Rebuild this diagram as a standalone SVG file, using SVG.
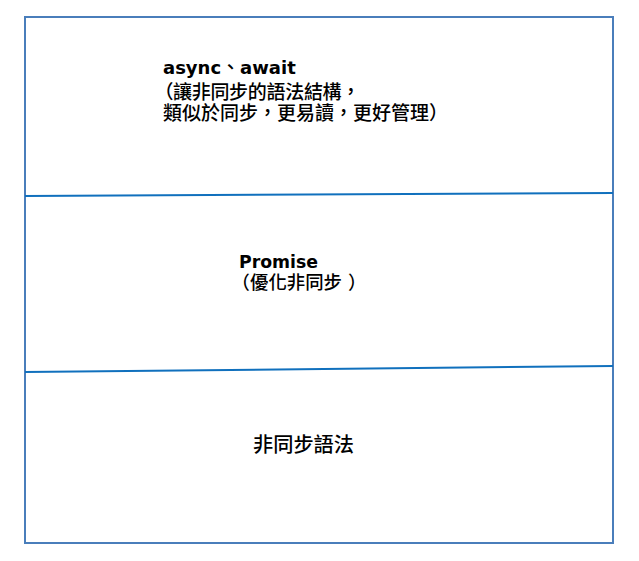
<svg xmlns="http://www.w3.org/2000/svg" width="639" height="561" viewBox="0 0 639 561">
<style>
.frame{fill:#ffffff;stroke:#4a7ebb;stroke-width:2}
.div{stroke:#1070bd;stroke-width:2;fill:none}
.lat{font-family:"DejaVu Sans","Noto Sans CJK TC",sans-serif;font-weight:bold;fill:#000}
.cjk{font-family:"Noto Sans CJK TC","Noto Sans CJK SC",sans-serif;font-weight:500;fill:#000}
</style>
<rect width="639" height="561" fill="#ffffff"/>
<g id="frame">
<rect class="frame" x="25" y="17" width="588" height="526"/>
</g>
<g id="connectors">
<line class="div" x1="25" y1="196" x2="613" y2="193"/>
<line class="div" x1="25" y1="372" x2="613" y2="366"/>
</g>
<g id="node-async-await">
<text x="163" y="74" class="lat" font-size="18">async<tspan class="cjk" font-weight="normal" font-size="19">、</tspan>await</text>
<text y="98.5" class="cjk" font-size="19"><tspan x="154.5">（</tspan><tspan x="173" letter-spacing="-0.3">讓非同步的語法結構，</tspan></text>
<text x="163" y="120" class="cjk" font-size="19">類似於同步，更易讀，更好管理）</text>
</g>
<g id="node-promise">
<text x="239" y="268" class="lat" font-size="17.3">Promise</text>
<text y="288.5" class="cjk" font-size="18.4"><tspan x="231.5">（</tspan><tspan x="250">優化非同步</tspan><tspan x="348">）</tspan></text>
</g>
<g id="node-async-syntax">
<text x="253" y="451.5" class="cjk" font-size="20.2">非同步語法</text>
</g>
</svg>
